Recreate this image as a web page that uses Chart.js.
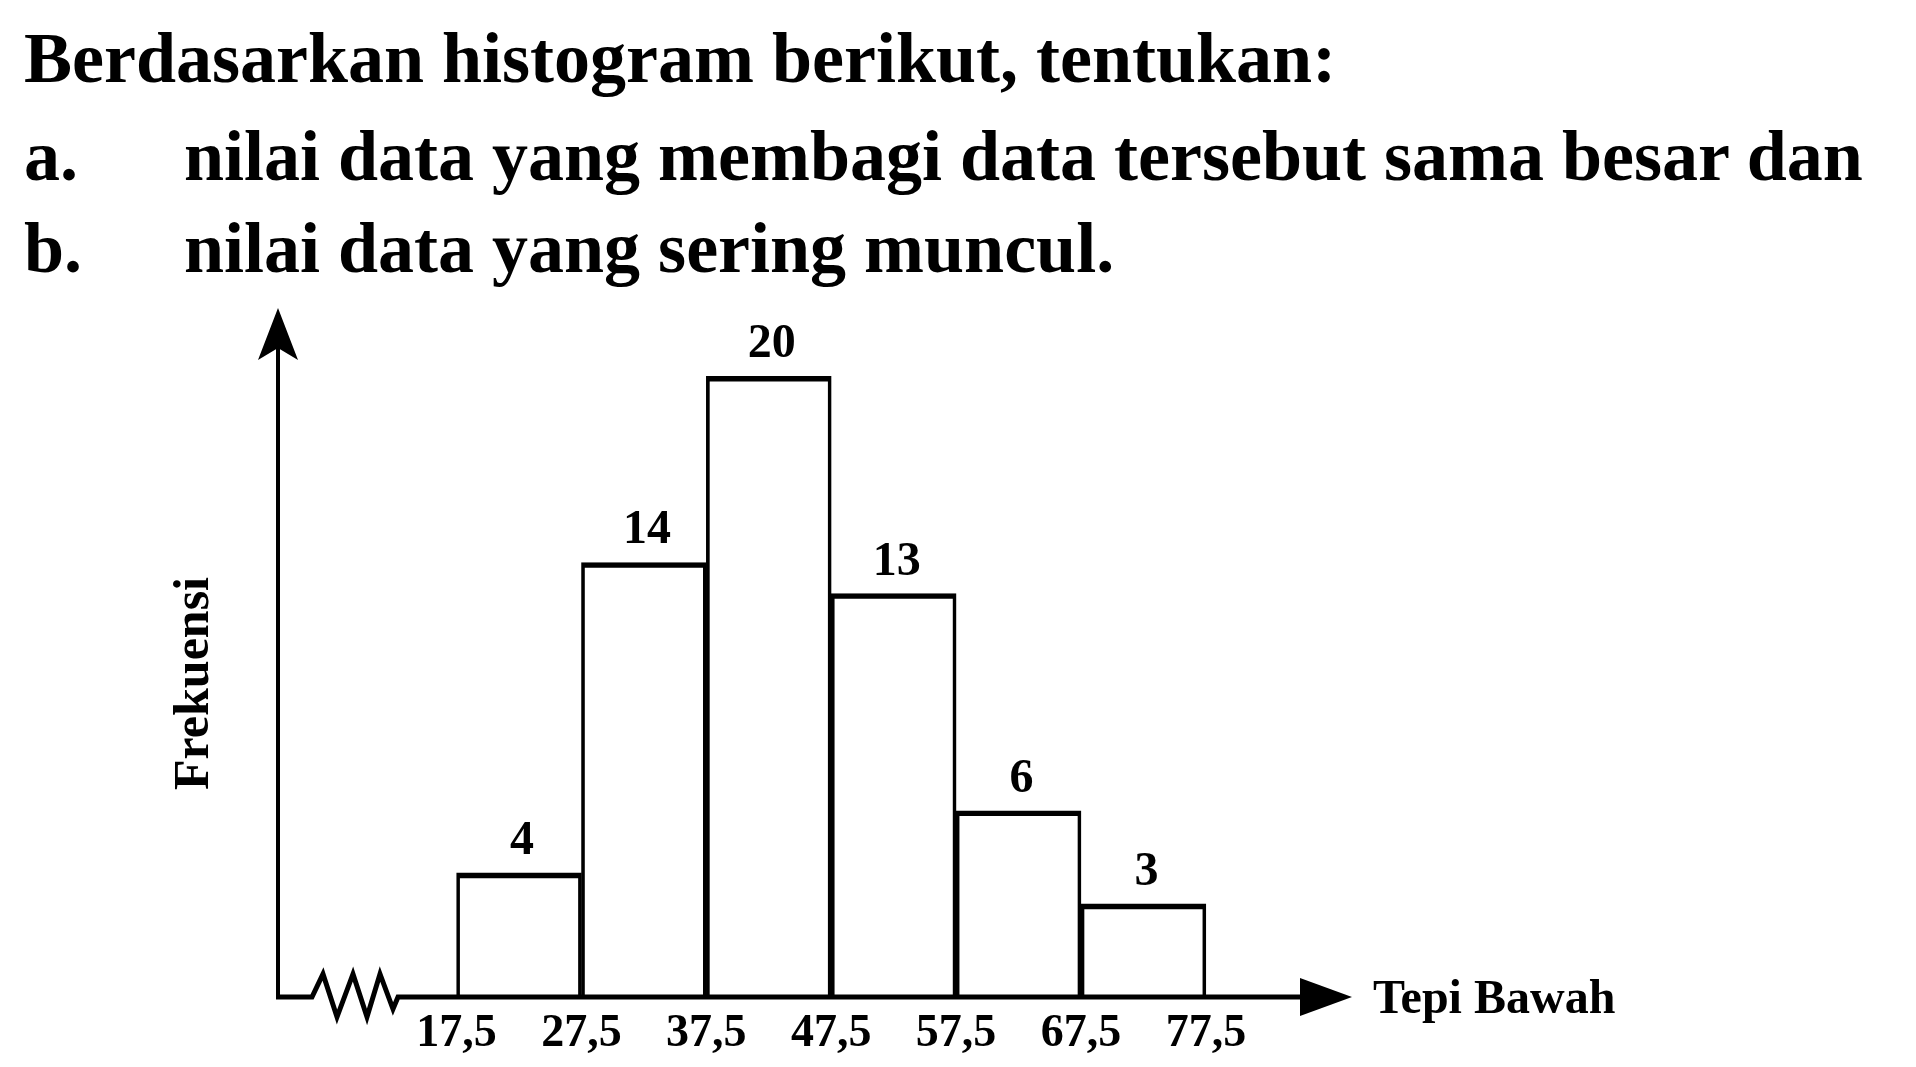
<!DOCTYPE html>
<html><head><meta charset="utf-8">
<script src="https://cdn.jsdelivr.net/npm/chart.js@4"></script>
<style>
html,body{margin:0;padding:0;background:#fff;width:1916px;height:1067px;overflow:hidden}
#wrap{position:relative;width:1916px;height:1067px}
canvas{position:absolute;left:0;top:0}
.q{position:absolute;font-family:"Liberation Serif",serif;font-weight:bold;font-size:72px;line-height:72px;color:#000;white-space:nowrap}
</style></head><body>
<div id="wrap">
<canvas id="c" width="1916" height="1067"></canvas>
<div class="q" style="left:24px;top:22px">Berdasarkan histogram berikut, tentukan:</div>
<div class="q" style="left:24px;top:120px">a.</div>
<div class="q" style="left:184px;top:120px">nilai data yang membagi data tersebut sama besar dan</div>
<div class="q" style="left:24px;top:212px">b.</div>
<div class="q" style="left:184px;top:212px">nilai data yang sering muncul.</div>
</div>
<script>
// ---- data ----
const lowerBounds = [17.5, 27.5, 37.5, 47.5, 57.5, 67.5];
const classWidth = 10;
const frequencies = [4, 14, 20, 13, 6, 3];
const tickValues = [17.5, 27.5, 37.5, 47.5, 57.5, 67.5, 77.5];
const xAxisTitle = 'Tepi Bawah';
const yAxisTitle = 'Frekuensi';

const FONT = '"Liberation Serif", serif';

const decor = {
  id: 'decor',
  afterDatasetsDraw(chart) {
    const {ctx, chartArea: a} = chart;
    const x0 = a.left, yb = a.bottom;
    ctx.save();
    ctx.strokeStyle = '#000'; ctx.fillStyle = '#000';
    // y axis
    ctx.lineWidth = 4;
    ctx.beginPath(); ctx.moveTo(x0, yb + 2); ctx.lineTo(x0, a.top + 30); ctx.stroke();
    ctx.beginPath();
    ctx.moveTo(x0, a.top);
    ctx.lineTo(x0 - 20, a.top + 52);
    ctx.lineTo(x0, a.top + 40);
    ctx.lineTo(x0 + 20, a.top + 52);
    ctx.closePath(); ctx.fill();
    // x axis with break
    ctx.lineWidth = 5;
    ctx.lineJoin = 'miter';
    ctx.beginPath();
    ctx.moveTo(x0 - 2, yb);
    const zig = [[34,0],[45,-23],[59,20],[75,-23],[89,20],[102,-23],[115,12],[120,0]];
    zig.forEach(p => ctx.lineTo(x0 + p[0], yb + p[1]));
    ctx.lineTo(a.right - 45, yb);
    ctx.stroke();
    ctx.beginPath();
    ctx.moveTo(a.right, yb);
    ctx.lineTo(a.right - 52, yb - 19);
    ctx.lineTo(a.right - 52, yb + 19);
    ctx.closePath(); ctx.fill();
    // axis titles
    ctx.font = 'bold 48px ' + FONT;
    ctx.textAlign = 'left'; ctx.textBaseline = 'alphabetic';
    ctx.fillText(xAxisTitle, a.right + 21, yb + 16);
    ctx.save();
    ctx.translate(x0 - 83, (a.top + a.bottom) / 2 + 31);
    ctx.rotate(-Math.PI / 2);
    ctx.font = 'bold 50px ' + FONT;
    ctx.textAlign = 'center'; ctx.textBaseline = 'middle';
    ctx.fillText(yAxisTitle, 0, 0);
    ctx.restore();
    // value labels
    const meta = chart.getDatasetMeta(0);
    ctx.font = 'bold 48px ' + FONT;
    ctx.textAlign = 'center'; ctx.textBaseline = 'alphabetic';
    meta.data.forEach((el, i) => {
      ctx.fillText(String(frequencies[i]), el.x + 3, el.y - 19);
    });
    ctx.restore();
  }
};

new Chart(document.getElementById('c'), {
  type: 'bar',
  data: {
    datasets: [{
      data: lowerBounds.map((b, i) => ({x: b + classWidth / 2, y: frequencies[i]})),
      backgroundColor: 'rgba(255,255,255,0)',
      borderColor: '#000',
      borderWidth: {top: 5, left: 3, right: 3, bottom: 0},
      borderSkipped: 'start',
      barPercentage: 1,
      categoryPercentage: 1
    }]
  },
  options: {
    responsive: false,
    animation: false,
    devicePixelRatio: 1,
    layout: {padding: {left: 278, right: 564, top: 308, bottom: 0}},
    plugins: {legend: {display: false}, tooltip: {enabled: false}, title: {display: false}},
    scales: {
      x: {
        type: 'linear',
        offset: false,
        min: 3.2,
        max: 89.2,
        grid: {display: false, drawTicks: false},
        border: {display: false},
        afterBuildTicks: s => { s.ticks = tickValues.map(v => ({value: v})); },
        afterFit: s => { s.height = 70; },
        ticks: {
          autoSkip: false,
          maxRotation: 0,
          padding: 10,
          color: '#000',
          font: {family: FONT, size: 46, weight: 'bold'},
          callback: v => Number(v).toFixed(1).replace('.', ',')
        }
      },
      y: {
        display: false,
        min: 0,
        max: 22.2
      }
    }
  },
  plugins: [decor]
});
</script>
</body></html>
